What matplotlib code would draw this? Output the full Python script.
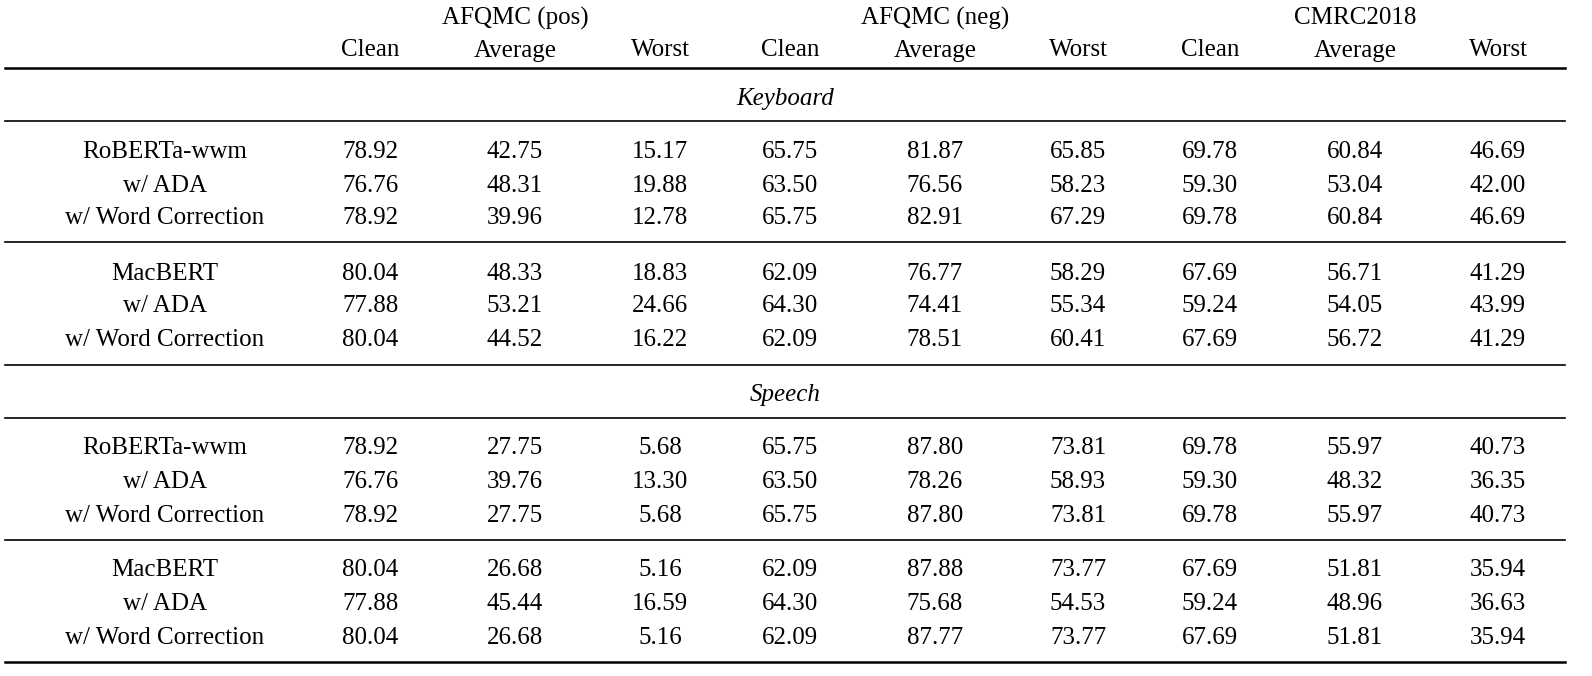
import matplotlib.pyplot as plt

plt.rcParams['font.family'] = ['Liberation Serif', 'DejaVu Serif']

groups = ["AFQMC (pos)", "AFQMC (neg)", "CMRC2018"]
subcols = ["Clean", "Average", "Worst"]
models = ["RoBERTa-wwm", "w/ ADA", "w/ Word Correction"]
models2 = ["MacBERT", "w/ ADA", "w/ Word Correction"]

keyboard_roberta = [
    ["78.92", "42.75", "15.17", "65.75", "81.87", "65.85", "69.78", "60.84", "46.69"],
    ["76.76", "48.31", "19.88", "63.50", "76.56", "58.23", "59.30", "53.04", "42.00"],
    ["78.92", "39.96", "12.78", "65.75", "82.91", "67.29", "69.78", "60.84", "46.69"],
]
keyboard_macbert = [
    ["80.04", "48.33", "18.83", "62.09", "76.77", "58.29", "67.69", "56.71", "41.29"],
    ["77.88", "53.21", "24.66", "64.30", "74.41", "55.34", "59.24", "54.05", "43.99"],
    ["80.04", "44.52", "16.22", "62.09", "78.51", "60.41", "67.69", "56.72", "41.29"],
]
speech_roberta = [
    ["78.92", "27.75", "5.68", "65.75", "87.80", "73.81", "69.78", "55.97", "40.73"],
    ["76.76", "39.76", "13.30", "63.50", "78.26", "58.93", "59.30", "48.32", "36.35"],
    ["78.92", "27.75", "5.68", "65.75", "87.80", "73.81", "69.78", "55.97", "40.73"],
]
speech_macbert = [
    ["80.04", "26.68", "5.16", "62.09", "87.88", "73.77", "67.69", "51.81", "35.94"],
    ["77.88", "45.44", "16.59", "64.30", "75.68", "54.53", "59.24", "48.96", "36.63"],
    ["80.04", "26.68", "5.16", "62.09", "87.77", "73.77", "67.69", "51.81", "35.94"],
]


def main():
    fig = plt.figure(figsize=(15.92, 6.76), dpi=100)
    ax = fig.add_axes([0, 0, 1, 1])
    ax.set_xlim(0, 1592)
    ax.set_ylim(676, 0)
    ax.set_axis_off()

    fs = 18
    label_x = 165
    col_x = [370, 515, 660, 790, 935, 1078, 1210, 1355, 1498]
    x0, x1 = 5, 1565

    def txt(x, y, s, **kw):
        ax.text(x, y, s, ha="center", va="center_baseline", fontsize=fs, **kw)

    # header
    for i, g in enumerate(groups):
        txt(col_x[3 * i + 1], 16, g)
        for j, s in enumerate(subcols):
            txt(col_x[3 * i + j], 48, s)
    ax.plot([x0, x1], [68, 68], color="black", lw=1.8)

    def block(y_rows, names, rows):
        for y, name, row in zip(y_rows, names, rows):
            txt(label_x, y, name)
            for x, v in zip(col_x, row):
                txt(x, y, v)

    # Keyboard
    txt(785, 97, "Keyboard", style="italic")
    ax.plot([x0, x1], [121, 121], color="black", lw=1.2)
    block([149, 183, 216], models, keyboard_roberta)
    ax.plot([x0, x1], [242, 242], color="black", lw=1.2)
    block([271, 304, 338], models2, keyboard_macbert)
    ax.plot([x0, x1], [365, 365], color="black", lw=1.2)

    # Speech
    txt(785, 393, "Speech", style="italic")
    ax.plot([x0, x1], [418, 418], color="black", lw=1.2)
    block([446, 480, 513], models, speech_roberta)
    ax.plot([x0, x1], [540, 540], color="black", lw=1.2)
    block([568, 602, 636], models2, speech_macbert)
    ax.plot([x0, x1], [662, 662], color="black", lw=1.8)

    fig.savefig("out.png", dpi=100)


if __name__ == '__main__':
    main()
